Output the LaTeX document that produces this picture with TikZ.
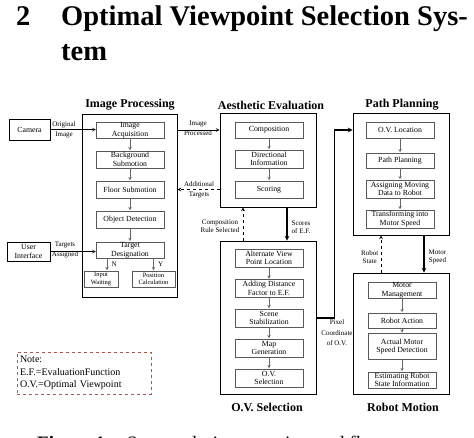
\documentclass[tikz,border=0pt]{standalone}
\usepackage{fontspec}
\setmainfont{Liberation Serif}
\usepackage{xcolor}
\usetikzlibrary{arrows,positioning}
\definecolor{notered}{RGB}{176,84,76}

\begin{document}
\begin{tikzpicture}[
x=1pt,y=-1pt,
font=\fontsize{7.8}{8.6}\selectfont,
outer/.style={draw,line width=0.8pt},
inbox/.style={draw=black!65,line width=0.5pt,align=center,inner sep=0.5pt,minimum width=68,minimum height=17},
sidebox/.style={draw,line width=0.6pt,align=center,inner sep=0.5pt},
heading/.style={font=\bfseries\fontsize{12}{14}\selectfont,inner sep=0},
tag/.style={align=center,font=\fontsize{7}{10}\selectfont,inner sep=0.5pt},
innerflow/.style={->,>=stealth,draw=black!60,line width=0.5pt,shorten >=0.5pt},
mainflow/.style={->,>=stealth,line width=0.6pt},
heavyflow/.style={->,>=stealth,line width=1.1pt},
backflow/.style={->,>=stealth,dashed,line width=0.7pt},
titlefont/.style={font=\bfseries\fontsize{28.5}{30}\selectfont,inner sep=0,anchor=base west}
]
\useasboundingbox (0,0) rectangle (474,437);

% Section title
\node[titlefont] (secnum) at (16,25) {2};
\node[titlefont] (title1) at (61,25) {Optimal Viewpoint Selection Sys-};
\node[titlefont] (title2) at (61,60) {tem};

% Outer blocks
\node[outer,minimum width=95,minimum height=183] (ip) at (129.5,205.5) {};
\node[outer,minimum width=96,minimum height=94] (ae) at (268,160) {};
\node[outer,minimum width=96,minimum height=153] (ov) at (268,317.5) {};
\node[outer,minimum width=96,minimum height=122] (pp) at (401,174) {};
\node[outer,minimum width=96,minimum height=121] (rm) at (401,333.5) {};

\node[heading] (iphead) at (130,105) {Image Processing};
\node[heading] (aehead) at (271,105) {Aesthetic Evaluation};
\node[heading] (pphead) at (402,105) {Path Planning};
\node[heading] (ovhead) at (267,407) {O.V. Selection};
\node[heading] (rmhead) at (403,407) {Robot Motion};

% Inputs
\node[sidebox,minimum width=41,minimum height=21] (cam) at (29.5,129.5) {Camera};
\node[sidebox,minimum width=43,minimum height=19] (ui) at (28.5,251.5) {User\\Interface};

% Image processing
\node[inbox,minimum height=16] (acq) at (130,130) {Image\\Acquisition};
\node[inbox] (bg) at (130,159.5) {Background\\Submotion};
\node[inbox] (floor) at (130,189.5) {Floor Submotion};
\node[inbox] (obj) at (130,219.5) {Object Detection};
\node[inbox,minimum height=16] (tgt) at (130,250) {Target\\Designation};
\node[inbox,minimum width=34,minimum height=16,font=\fontsize{6.5}{7.5}\selectfont] (wait) at (101,279) {Input\\Waiting};
\node[inbox,minimum width=43,minimum height=16,font=\fontsize{6.5}{7.5}\selectfont] (pos) at (153.5,279) {Position\\Calculation};

% Aesthetic evaluation
\node[inbox,minimum height=16] (comp) at (269,130) {Composition};
\node[inbox,minimum height=18] (dir) at (269,159) {Directional\\Information};
\node[inbox] (score) at (269,189.5) {Scoring};

% O.V. selection
\node[inbox,minimum height=18] (alt) at (269,258) {Alternate View\\Point Location};
\node[inbox,minimum height=18] (dist) at (269,288.5) {Adding Distance\\Factor to E.F.};
\node[inbox,minimum height=18] (stab) at (269,318) {Scene\\Stabilization};
\node[inbox,minimum height=18] (map) at (269,348) {Map\\Generation};
\node[inbox,minimum height=18] (ovsel) at (269,378) {O.V.\\Selection};

% Path planning
\node[inbox,minimum height=16] (ovl) at (400,130) {O.V. Location};
\node[inbox,minimum height=15] (path) at (400,160.5) {Path Planning};
\node[inbox,minimum height=18] (assign) at (400,189) {Assigning Moving\\Data to Robot};
\node[inbox,minimum height=18] (trans) at (400,219) {Transforming into\\Motor Speed};

% Robot motion
\node[inbox,minimum height=16] (motor) at (402,290) {Motor\\Management};
\node[inbox,minimum height=15] (action) at (402,320.5) {Robot Action};
\node[inbox,minimum height=26] (actual) at (402,346.5) {Actual Motor\\Speed Detection};
\node[inbox,minimum height=16] (est) at (402,380) {Estimating Robot\\State Information};

% Arrows inside blocks
\foreach \a/\b in {acq/bg,bg/floor,floor/obj,obj/tgt,comp/dir,dir/score,
  alt/dist,dist/stab,stab/map,map/ovsel,ovl/path,path/assign,assign/trans,
  motor/action,action/actual,actual/est}
  \draw[innerflow] (\a) -- (\b);
\draw[innerflow] ([xshift=6]wait.north |- tgt.south) -- ([xshift=6]wait.north)
  node[pos=0.5,right=1pt,font=\fontsize{7}{8}\selectfont] (nlab) {N};
\draw[innerflow] (pos.north |- tgt.south) -- (pos.north)
  node[pos=0.5,right=1pt,font=\fontsize{7}{8}\selectfont] (ylab) {Y};

% Arrows between blocks
\draw[mainflow] (cam) -- (cam -| acq.west);
\draw[mainflow] (ui) -- (ui -| tgt.west);
\draw[mainflow] (acq -| ip.east) -- (acq -| ae.west);
\draw[backflow] (score -| ae.west) -- (score -| ip.east);
\draw[backflow] ([xshift=-25]ov.north) -- ([xshift=-25]ov.north |- ae.south);
\draw[heavyflow] ([xshift=19]ae.south) -- ([xshift=19]ae.south |- ov.north);
\draw[heavyflow] (stab -| ov.east) -- ++(18,0) |- (ovl -| pp.west);
\draw[backflow] ([xshift=-20]rm.north) -- ([xshift=-20]rm.north |- pp.south);
\draw[heavyflow] ([xshift=23]pp.south) -- ([xshift=23]pp.south |- rm.north);

% Connector labels
\node[tag] (origlab) at (64,129.5) {Original\\Image};
\node[tag] (assignlab) at (65,249.5) {Targets\\Assigned};
\node[tag] (proclab) at (198,128) {Image\\Processed};
\node[tag] (addlab) at (199,190) {Additional\\Targets};
\node[tag,anchor=east,font=\fontsize{7}{8}\selectfont] (rulelab) at (240,226) {Composition\\Rule Selected};
\node[tag,anchor=west,font=\fontsize{7}{8}\selectfont] (scorelab) at (291,227) {Scores\\of E.F.};
\node[tag,font=\fontsize{7}{10.5}\selectfont] (pixlab) at (337,333) {Pixel\\Coordinate\\of O.V.};
\node[tag,anchor=east,font=\fontsize{7}{8.5}\selectfont] (statelab) at (379,257) {Robot\\State};
\node[tag,anchor=west,font=\fontsize{7}{8.5}\selectfont] (speedlab) at (428,257) {Motor\\Speed};

% Note
\node[draw=notered,dashed,line width=0.8pt,minimum width=134,minimum height=42,
  text width=128,align=left,inner sep=2pt,font=\fontsize{10}{12.5}\selectfont] (note) at (84,373)
  {Note:\\E.F.=EvaluationFunction\\O.V.=Optimal Viewpoint};

% Caption (cut by the page edge)
\node[anchor=base west,inner sep=0,font=\fontsize{19}{21}\selectfont] (caption) at (37,449)
  {\textbf{Figure 1.}\hspace{0.9em}System design overview and flow};
\end{tikzpicture}
\end{document}
